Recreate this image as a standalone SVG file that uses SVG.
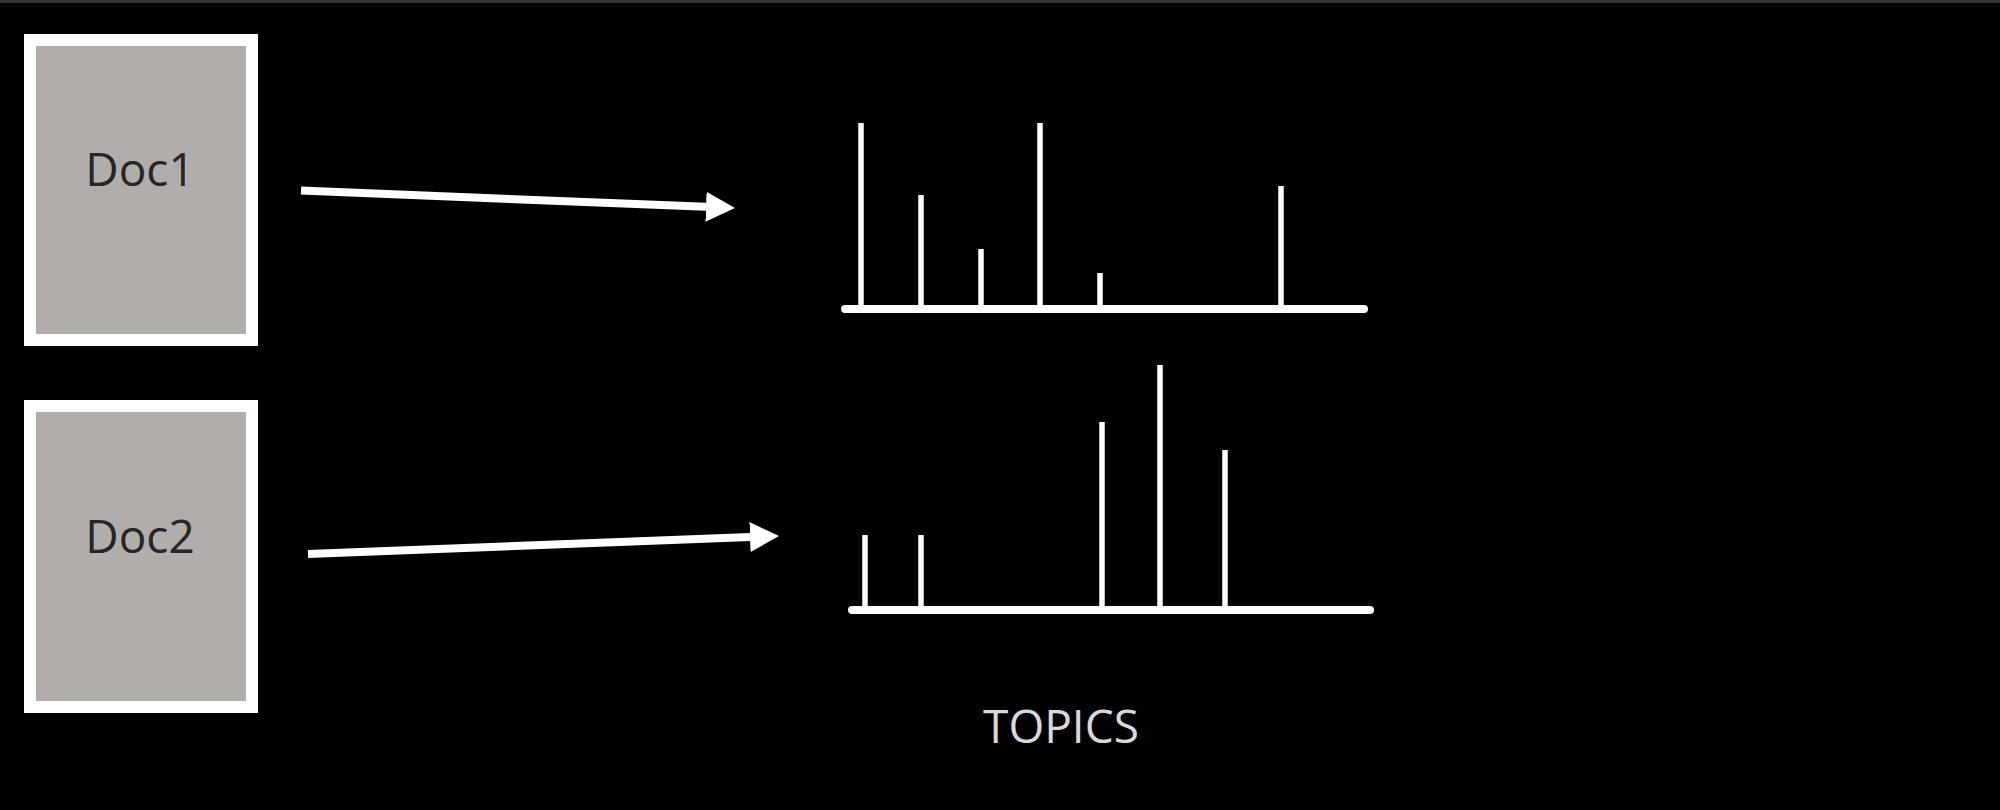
<svg xmlns="http://www.w3.org/2000/svg" width="2000" height="810" viewBox="0 0 2000 810">
  <defs>
    <style>
      .doc { fill: #b0adab; stroke: #ffffff; stroke-width: 12; }
      .doclabel { font-family: "Open Sans", "Liberation Sans", sans-serif; font-size: 46px; fill: #262626; text-anchor: middle; }
      .conn { stroke: #ffffff; stroke-width: 8; fill: none; }
      .axis { stroke: #ffffff; stroke-width: 8; stroke-linecap: round; }
      .bar { stroke: #ffffff; stroke-width: 5.5; }
      .caption { font-family: "Open Sans", "Liberation Sans", sans-serif; font-size: 46px; fill: #d9d9d9; text-anchor: middle; }
    </style>
    <marker id="arrowhead" markerUnits="userSpaceOnUse" markerWidth="30" markerHeight="30" refX="0" refY="15" orient="auto" viewBox="0 0 30 30">
      <path d="M0,0 L29,15 L0,30 Z" fill="#ffffff"/>
    </marker>
  </defs>
  <rect x="0" y="0" width="2000" height="810" fill="#000000"/>
  <rect x="0" y="0" width="2000" height="3" fill="#333333"/>

  <g id="doc1">
    <rect class="doc" x="30" y="40" width="222" height="300"/>
    <text class="doclabel" x="140" y="186">Doc1</text>
  </g>
  <g id="doc2">
    <rect class="doc" x="30" y="406" width="222" height="301"/>
    <text class="doclabel" x="140" y="553">Doc2</text>
  </g>

  <g id="connectors">
    <line class="conn" x1="301" y1="190.6" x2="706" y2="206.8" marker-end="url(#arrowhead)"/>
    <line class="conn" x1="308" y1="554" x2="750" y2="537.1" marker-end="url(#arrowhead)"/>
  </g>

  <g id="topics1">
    <line class="bar" x1="861" y1="123" x2="861" y2="309"/>
    <line class="bar" x1="921" y1="195" x2="921" y2="309"/>
    <line class="bar" x1="981" y1="249" x2="981" y2="309"/>
    <line class="bar" x1="1040" y1="123" x2="1040" y2="309"/>
    <line class="bar" x1="1100" y1="273" x2="1100" y2="309"/>
    <line class="bar" x1="1281" y1="186" x2="1281" y2="309"/>
    <line class="axis" x1="845" y1="309" x2="1364" y2="309"/>
  </g>

  <g id="topics2">
    <line class="bar" x1="865" y1="535" x2="865" y2="610"/>
    <line class="bar" x1="921" y1="535" x2="921" y2="610"/>
    <line class="bar" x1="1102" y1="422" x2="1102" y2="610"/>
    <line class="bar" x1="1160" y1="365" x2="1160" y2="610"/>
    <line class="bar" x1="1225" y1="450" x2="1225" y2="610"/>
    <line class="axis" x1="852" y1="610" x2="1370" y2="610"/>
  </g>

  <g id="caption">
    <text class="caption" x="1061" y="743">TOPICS</text>
  </g>
</svg>
